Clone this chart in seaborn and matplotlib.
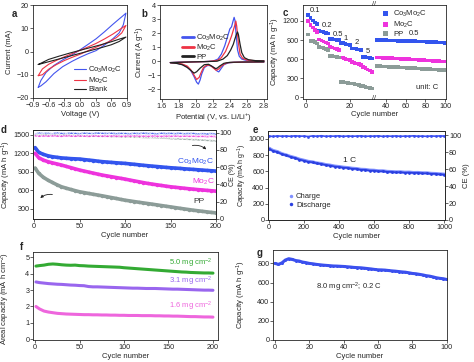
import matplotlib
matplotlib.use("Agg")
import matplotlib.pyplot as plt
import seaborn as sns

# ---- a: CV of symmetric cells (forward then reverse scan)
a_co_v = [-0.80, -0.75, -0.65, -0.50, -0.33, -0.15, 0.00, 0.15, 0.31, 0.47, 0.63, 0.75, 0.83, 0.88,
          0.83, 0.75, 0.63, 0.47, 0.31, 0.15, 0.00, -0.15, -0.33, -0.50, -0.65, -0.75, -0.80]
a_co_i = [-15.4, -12.5, -9.0, -6.0, -3.6, -1.4, 0.7, 3.0, 5.5, 8.5, 11.7, 14.0, 15.5, 16.5,
          11.5, 8.0, 5.5, 2.8, 0.4, -1.0, -2.5, -4.2, -6.5, -9.5, -13.0, -14.8, -15.4]
a_mo_v = [-0.80, -0.72, -0.60, -0.45, -0.30, -0.15, 0.00, 0.15, 0.31, 0.47, 0.63, 0.75, 0.83, 0.88,
          0.80, 0.70, 0.55, 0.40, 0.25, 0.10, 0.00, -0.15, -0.30, -0.45, -0.60, -0.72, -0.80]
a_mo_i = [-10.4, -7.5, -5.5, -3.8, -2.3, -0.9, 0.5, 1.9, 3.5, 5.4, 7.5, 9.3, 10.5, 11.2,
          8.0, 6.0, 4.2, 2.7, 1.3, -0.2, -1.2, -2.5, -3.9, -5.6, -7.6, -10.0, -10.4]
a_bl_v = [-0.80, -0.60, -0.40, -0.20, 0.00, 0.20, 0.40, 0.60, 0.75, 0.88,
          0.75, 0.60, 0.40, 0.20, 0.00, -0.20, -0.40, -0.60, -0.80]
a_bl_i = [-5.6, -3.4, -2.0, -0.7, 0.5, 1.7, 2.9, 4.2, 5.3, 6.2,
          4.3, 2.9, 1.6, 0.4, -0.8, -2.0, -3.2, -4.4, -5.6]

# ---- b: CV of Li-S cells (cathodic 2.8 -> 1.7, then anodic 1.7 -> 2.8)
b_co_v = [2.80, 2.60, 2.45, 2.38, 2.33, 2.30, 2.27, 2.25, 2.22, 2.18, 2.14, 2.10, 2.07, 2.05, 2.03, 2.01,
          1.98, 1.94, 1.90, 1.85, 1.78, 1.70,
          1.80, 1.95, 2.10, 2.20, 2.26, 2.30, 2.34, 2.37, 2.40, 2.42, 2.435, 2.45, 2.46, 2.475, 2.49,
          2.51, 2.54, 2.58, 2.65, 2.80]
b_co_i = [-0.05, -0.06, -0.08, -0.12, -0.25, -0.50, -0.76, -0.70, -0.50, -0.33, -0.30, -0.45, -0.90, -1.35,
          -1.63, -1.50, -1.10, -0.65, -0.40, -0.25, -0.15, -0.10,
          -0.07, -0.05, -0.03, 0.00, 0.15, 0.50, 1.10, 1.70, 2.30, 2.45, 2.80, 3.12, 2.90, 1.80, 0.80,
          0.35, 0.15, 0.08, 0.04, 0.02]
b_mo_v = [2.80, 2.60, 2.45, 2.36, 2.30, 2.27, 2.24, 2.21, 2.17, 2.13, 2.09, 2.06, 2.04, 2.01, 1.98, 1.94,
          1.90, 1.84, 1.77, 1.70,
          1.85, 2.00, 2.15, 2.25, 2.30, 2.35, 2.39, 2.42, 2.44, 2.46, 2.47, 2.48, 2.50, 2.52, 2.55, 2.60,
          2.70, 2.80]
b_mo_i = [-0.05, -0.06, -0.08, -0.12, -0.35, -0.55, -0.65, -0.50, -0.30, -0.28, -0.45, -0.85, -1.15, -1.30,
          -1.00, -0.60, -0.35, -0.20, -0.13, -0.10,
          -0.07, -0.05, -0.02, 0.05, 0.25, 0.70, 1.30, 1.80, 2.20, 2.60, 2.85, 2.50, 1.30, 0.50, 0.20, 0.08,
          0.03, 0.02]
b_pp_v = [2.80, 2.55, 2.40, 2.33, 2.28, 2.25, 2.23, 2.20, 2.15, 2.10, 2.05, 2.01, 1.98, 1.95, 1.90, 1.84,
          1.77, 1.70,
          1.90, 2.10, 2.25, 2.32, 2.37, 2.41, 2.44, 2.46, 2.48, 2.49, 2.50, 2.52, 2.54, 2.57, 2.62, 2.70, 2.80]
b_pp_i = [-0.05, -0.06, -0.08, -0.15, -0.35, -0.50, -0.52, -0.40, -0.22, -0.25, -0.50, -0.75, -0.85, -0.70,
          -0.45, -0.25, -0.15, -0.10,
          -0.06, -0.03, 0.00, 0.15, 0.40, 0.80, 1.20, 1.60, 1.95, 2.08, 1.90, 1.20, 0.60, 0.25, 0.10, 0.04, 0.02]

# ---- c: rate capability
c_cyc1 = list(range(1, 31))
c_co1 = [1292, 1245, 1205, 1175, 1150, 1046, 1035, 1025, 1015, 1005, 915, 912, 908, 905, 900,
         857, 850, 840, 830, 821, 769, 765, 758, 750, 743, 637, 632, 625, 618, 611]
c_mo1 = [1203, 1140, 1095, 1060, 1030, 910, 895, 878, 862, 847, 794, 782, 768, 755, 742,
         627, 618, 605, 595, 585, 559, 545, 532, 520, 507, 480, 462, 440, 420, 402]
c_pp1 = [988, 889, 880, 865, 847, 794, 785, 770, 755, 742, 648, 645, 640, 632, 627,
         245, 240, 232, 225, 219, 219, 210, 200, 190, 182, 177, 168, 158, 148, 140]
c_cyc2 = list(range(31, 101, 3))
c_co2 = [902, 900, 898, 899, 895, 893, 894, 890, 888, 889, 885, 883, 884, 880, 878, 876, 877, 873,
         870, 868, 866, 864, 861, 858]
c_mo2 = [628, 624, 622, 619, 617, 614, 612, 609, 606, 604, 601, 598, 596, 593, 590, 587, 584, 581,
         578, 575, 572, 568, 565, 561]
c_pp2 = [492, 488, 485, 483, 480, 477, 475, 472, 469, 467, 464, 462, 459, 457, 454, 451, 449, 446,
         443, 440, 437, 434, 431, 428]
c_rates = ["0.1", "0.2", "0.5", "1", "2", "5"]

# ---- d: cycling at 0.5 C
d_cyc = [1] + list(range(5, 201, 5))
d_co = [1293, 1215, 1184, 1160, 1145, 1135, 1125, 1120, 1114, 1110, 1107, 1098, 1090, 1082, 1072, 1064,
        1058, 1052, 1046, 1041, 1036, 1028, 1021, 1013, 1005, 998, 991, 985, 978, 971, 965, 960, 955,
        948, 943, 938, 932, 927, 921, 916, 911]
d_mo = [1200, 1129, 1090, 1064, 1045, 1027, 1009, 988, 968, 947, 927, 910, 894, 877, 861, 845, 832, 819,
        806, 793, 780, 765, 751, 737, 723, 709, 698, 687, 676, 665, 655, 647, 639, 631, 623, 616, 609,
        603, 596, 590, 584]
d_pp = [960, 873, 810, 764, 725, 688, 655, 633, 612, 592, 573, 560, 546, 533, 520, 507, 493, 479, 465,
        450, 436, 425, 414, 403, 392, 382, 371, 360, 349, 338, 327, 316, 305, 294, 284, 273, 264, 255,
        246, 237, 229]
d_ce_co = [98.0, 99.5, 98.8, 99.2, 98.5, 99.6, 99.0, 98.7, 99.3, 99.1, 98.6, 99.4, 99.0, 98.8, 99.5,
           99.2, 98.9, 99.3, 98.7, 99.1, 99.0, 98.6, 99.2, 98.8, 99.4, 98.9, 99.0, 98.5, 99.3, 98.8,
           99.1, 98.7, 99.2, 98.6, 98.9, 99.0, 98.4, 98.8, 98.5, 98.9, 98.3]
d_ce_mo = [96.5, 95.8, 96.2, 95.9, 96.4, 96.0, 95.7, 96.3, 96.1, 95.8, 96.2, 96.0, 95.6, 96.3, 95.9,
           96.1, 95.8, 96.2, 96.0, 95.7, 96.1, 95.9, 96.3, 95.8, 96.0, 95.6, 96.2, 95.9, 95.7, 96.0,
           95.8, 96.1, 95.6, 95.9, 95.7, 95.8, 95.5, 95.7, 95.4, 95.6, 95.3]
d_ce_pp = [97.0, 96.8, 97.2, 96.9, 96.7, 97.0, 96.6, 96.8, 96.4, 96.5, 96.2, 96.3, 95.9, 96.0, 95.8,
           95.6, 95.7, 95.3, 95.4, 95.1, 94.9, 95.0, 94.6, 94.7, 94.3, 94.1, 94.2, 93.8, 93.6, 93.5,
           93.1, 92.9, 92.7, 92.5, 92.2, 91.9, 91.7, 91.4, 91.0, 90.7, 90.3]

# ---- e: long cycling at 1 C
e_cyc = list(range(0, 1001, 25))
e_dis = [880, 852, 838, 812, 798, 778, 765, 745, 733, 718, 712, 698, 692, 678, 672, 660, 655, 646, 642,
         633, 630, 620, 619, 610, 609, 601, 602, 594, 593, 588, 590, 584, 586, 580, 582, 576, 577, 570,
         569, 563, 561]
e_chg = [886, 856, 842, 816, 801, 782, 768, 749, 736, 722, 715, 702, 695, 682, 675, 664, 658, 650, 645,
         637, 633, 624, 622, 614, 612, 605, 605, 598, 596, 592, 593, 588, 589, 584, 585, 580, 580, 574,
         572, 567, 564]
e_ce = [99.0, 98.6, 99.2, 98.8, 99.1, 98.7, 99.3, 98.9, 99.0, 98.5, 99.2, 98.8, 99.4, 98.7, 99.0, 98.9,
        99.3, 98.6, 99.1, 98.8, 99.0, 99.2, 98.7, 99.0, 98.9, 99.3, 98.6, 99.1, 98.8, 99.2, 98.7, 99.0,
        98.9, 99.3, 98.8, 99.0, 98.7, 99.1, 98.9, 99.2, 99.0]

# ---- f: areal capacity at different loadings
f_cyc = [1] + list(range(5, 201, 5))
f_50 = [4.47, 4.50, 4.53, 4.58, 4.60, 4.58, 4.55, 4.53, 4.52, 4.53, 4.50, 4.49, 4.47, 4.46, 4.45, 4.44,
        4.43, 4.42, 4.41, 4.40, 4.37, 4.35, 4.33, 4.31, 4.29, 4.27, 4.25, 4.23, 4.21, 4.19, 4.17, 4.15,
        4.13, 4.11, 4.10, 4.08, 4.07, 4.06, 4.05, 4.05, 4.04]
f_31 = [3.50, 3.46, 3.43, 3.40, 3.38, 3.36, 3.35, 3.33, 3.31, 3.30, 3.28, 3.27, 3.22, 3.20, 3.20, 3.19,
        3.18, 3.17, 3.16, 3.15, 3.14, 3.13, 3.12, 3.12, 3.11, 3.10, 3.10, 3.10, 3.09, 3.08, 3.07, 3.06,
        3.06, 3.05, 3.04, 3.03, 3.02, 3.01, 3.00, 3.00, 2.99]
f_16 = [2.00, 1.85, 1.72, 1.66, 1.62, 1.58, 1.56, 1.54, 1.53, 1.52, 1.51, 1.50, 1.50, 1.49, 1.49, 1.48,
        1.48, 1.47, 1.47, 1.46, 1.46, 1.45, 1.45, 1.45, 1.44, 1.44, 1.44, 1.43, 1.43, 1.42, 1.42, 1.41,
        1.41, 1.40, 1.39, 1.38, 1.38, 1.37, 1.36, 1.36, 1.35]
f_labels = ["5.0 mg cm$^{-2}$", "3.1 mg cm$^{-2}$", "1.6 mg cm$^{-2}$"]

# ---- g: high loading 8.0 mg cm-2
g_cyc = list(range(0, 101, 2))
g_cap = [800, 790, 805, 835, 849, 842, 830, 825, 814, 808, 800, 796, 790, 786, 782, 779, 776, 773, 772,
         770, 768, 765, 762, 758, 756, 754, 750, 746, 742, 737, 733, 732, 730, 726, 722, 719, 715, 711,
         708, 702, 695, 692, 686, 680, 672, 667, 659, 650, 644, 640, 632]

CO, MO, PP = "Co$_3$Mo$_2$C", "Mo$_2$C", "PP"
BLUE, RED, BLACK = "#4455ee", "#ee3344", "#222222"
CBLUE, CMAG, CGRAY = "#3355ee", "#ee33dd", "#8c9c98"
CAP = "Capacity (mA h g$^{-1}$)"

sns.set_theme(style="ticks")
plt.rcParams["font.family"] = ["Liberation Sans", "DejaVu Sans"]
plt.rcParams.update({
    "font.size": 5.5, "axes.labelsize": 5.5, "xtick.labelsize": 5.2, "ytick.labelsize": 5.2,
    "legend.fontsize": 5.5, "axes.linewidth": 0.6, "xtick.major.width": 0.5, "ytick.major.width": 0.5,
    "xtick.major.size": 2, "ytick.major.size": 2, "xtick.major.pad": 1.2, "ytick.major.pad": 0.9,
    "axes.labelpad": 1.0, "mathtext.fontset": "custom", "mathtext.rm": "Liberation Sans",
    "mathtext.it": "Liberation Sans:italic", "mathtext.default": "regular",
})

W, H = 474, 362
fig = plt.figure(figsize=(W / 100, H / 100), dpi=100)


def add_ax(l, t, r, b):
    return fig.add_axes([l / W, 1 - b / H, (r - l) / W, (b - t) / H])


def line(ax, x, y, **kw):
    sns.lineplot(x=x, y=y, ax=ax, estimator=None, sort=False, **kw)


# a
ax = add_ax(33, 5, 127, 98)
line(ax, a_co_v, a_co_i, color=BLUE, lw=0.8, label=CO)
line(ax, a_mo_v, a_mo_i, color=RED, lw=0.8, label=MO)
line(ax, a_bl_v, a_bl_i, color=BLACK, lw=0.8, label="Blank")
ax.set(xlim=(-0.9, 0.9), ylim=(-20, 20), xlabel="Voltage (V)", ylabel="Current (mA)")
ax.set_xticks([-0.9, -0.6, -0.3, 0.0, 0.3, 0.6, 0.9])
ax.set_yticks([-20, -10, 0, 10, 20])
ax.yaxis.set_label_coords(-0.215, 0.5)
ax.legend(loc="lower right", frameon=False, handlelength=1.6, handletextpad=0.3, labelspacing=0.05,
          borderaxespad=0.2)

# b
ax = add_ax(160, 5, 266.5, 98.7)
line(ax, b_co_v, b_co_i, color=BLUE, lw=0.9, label=CO)
line(ax, b_mo_v, b_mo_i, color=RED, lw=0.9, label=MO)
line(ax, b_pp_v, b_pp_i, color=BLACK, lw=0.9, label=PP)
ax.set(xlim=(1.58, 2.83), ylim=(-2.67, 4), xlabel="Potential (V, vs. Li/Li$^{+}$)",
       ylabel="Current (A g$^{-1}$)")
ax.set_xticks([1.6, 1.8, 2.0, 2.2, 2.4, 2.6, 2.8])
ax.set_yticks([-2, -1, 0, 1, 2, 3, 4])
ax.yaxis.set_label_coords(-0.12, 0.5)
leg = ax.legend(loc="upper left", bbox_to_anchor=(0.14, 0.78), frameon=False, handlelength=1.6,
                handletextpad=0.3, labelspacing=0.05)
for h in leg.get_lines():
    h.set_linewidth(2)

# c (broken x axis)
ax1 = add_ax(303, 5, 374, 99)
ax2 = add_ax(374, 5, 446, 99)
for col, y1, y2, lab in [(CBLUE, c_co1, c_co2, CO), (CMAG, c_mo1, c_mo2, MO), (CGRAY, c_pp1, c_pp2, PP)]:
    sns.scatterplot(x=c_cyc1, y=y1, ax=ax1, marker="s", s=7, color=col, edgecolor="none", linewidth=0)
    sns.scatterplot(x=c_cyc2, y=y2, ax=ax2, marker="s", s=7, color=col, edgecolor="none", linewidth=0,
                    label=lab)
ax1.set(xlim=(-1.4, 30.9), ylim=(-25, 1450), ylabel=CAP, xlabel="")
ax1.set_xticks([0, 20])
ax1.set_yticks([0, 300, 600, 900, 1200])
ax1.yaxis.set_label_coords(-0.3, 0.5)
ax1.spines["right"].set_visible(False)
ax2.set(xlim=(28, 101), ylim=(-25, 1450), xlabel="", ylabel="")
ax2.set_xticks([40, 60, 80, 100])
ax2.set_yticks([])
ax2.spines["left"].set_visible(False)
for pos, s in zip([(4.1, 1360), (9.4, 1135), (14.6, 994), (18.2, 926), (23.2, 857), (28.0, 716)], c_rates):
    ax1.text(pos[0], pos[1], s, ha="center", va="center")
ax2.text(68.6, 1009, "0.5", ha="center", va="center")
ax2.text(82, 157, "unit: C", ha="center", va="center")
fig.text(374.5 / W, 1 - 99 / H, "//", ha="center", va="center", fontsize=5)
fig.text(374.5 / W, 1 - 5 / H, "//", ha="center", va="center", fontsize=5)
fig.text(374.5 / W, 1 - 114 / H, "Cycle number", ha="center", va="center", fontsize=5.5)
ax2.legend(loc="upper left", bbox_to_anchor=(-0.02, 1.02), frameon=False, handletextpad=0.0,
           labelspacing=0.1, markerscale=1.3, borderaxespad=0.3)

# d
ax = add_ax(33.3, 130, 216, 219)
axr = ax.twinx()
for col, y, ce in [(CBLUE, d_co, d_ce_co), (CGRAY, d_pp, d_ce_pp), (CMAG, d_mo, d_ce_mo)]:
    line(ax, d_cyc, y, color=col, lw=2.6, marker="o", ms=2.5, mec="none")
    line(axr, d_cyc, ce, color=col, lw=1.2, marker="o", ms=2.5, mfc="none", mew=0.6, alpha=0.85)
ax.set(xlim=(-1, 200), ylim=(130, 1580), xlabel="Cycle number", ylabel=CAP)
ax.set_xticks([0, 50, 100, 150, 200])
ax.set_yticks([300, 600, 900, 1200, 1500])
ax.yaxis.set_label_coords(-0.112, 0.5)
axr.set_ylim(0, 103)
axr.set_ylabel("CE (%)", fontsize=5.0)
axr.set_yticks([0, 20, 40, 60, 80, 100])
axr.tick_params(axis="y", pad=0.6)
axr.yaxis.set_label_coords(1.07, 0.5)
ax.text(177, 1060, CO, color=CBLUE, ha="center", va="center", fontsize=6)
ax.text(186, 733, MO, color=CMAG, ha="center", va="center", fontsize=6)
ax.text(181, 423, PP, color="#333333", ha="center", va="center", fontsize=6)
ax.annotate("", xy=(191.5, 1233), xytext=(171, 1318),
            arrowprops=dict(arrowstyle="-|>", color="#222222", lw=0.6, mutation_scale=4,
                            connectionstyle="arc3,rad=-0.3"))
ax.annotate("", xy=(4.5, 440), xytext=(23, 521),
            arrowprops=dict(arrowstyle="-|>", color="#222222", lw=0.6, mutation_scale=4,
                            connectionstyle="arc3,rad=0.3"))

# e
ax = add_ax(268, 131, 445, 220)
axr = ax.twinx()
line(ax, e_cyc, e_chg, color="#8090ff", lw=2.4, marker="o", ms=2, mec="none", label="Charge")
line(ax, e_cyc, e_dis, color="#2a3fe0", lw=1.2, marker="o", ms=2, mec="none", label="Discharge")
line(axr, e_cyc, e_ce, color="#3b4ff0", lw=1.2, marker="o", ms=2, mec="none")
ax.set(xlim=(-4, 1004), ylim=(0, 1098), xlabel="Cycle number")
ax.set_ylabel(CAP, fontsize=5.0)
ax.set_xticks([0, 200, 400, 600, 800, 1000])
ax.set_yticks([0, 200, 400, 600, 800, 1000])
ax.tick_params(axis="y", pad=0.6)
ax.yaxis.set_label_coords(-0.105, 0.5)
axr.set(ylim=(0, 105), ylabel="CE (%)")
axr.set_yticks([0, 20, 40, 60, 80, 100])
ax.text(461, 740, "1 C", ha="center", va="center", fontsize=6)
leg = ax.legend(loc="upper left", bbox_to_anchor=(0.08, 0.38), frameon=False, handlelength=0.6,
                handletextpad=0.3, labelspacing=0.1)
for h in leg.get_lines():
    h.set_linestyle("none")
    h.set_markersize(2.5)

# f
ax = add_ax(33.3, 251.7, 218.3, 340)
for col, y, lab, ly in [("#33aa33", f_50, f_labels[0], 4.63), ("#9966ee", f_31, f_labels[1], 3.51),
                        ("#ee66dd", f_16, f_labels[2], 1.99)]:
    line(ax, f_cyc, y, color=col, lw=2.2)
    ax.text(200, ly, lab, color=col, ha="right", va="center")
ax.set(xlim=(-2, 206), ylim=(-0.05, 5.35), xlabel="Cycle number",
       ylabel="Areal capacity (mA h cm$^{-2}$)")
ax.set_xticks([0, 50, 100, 150, 200])
ax.set_yticks([0, 1, 2, 3, 4, 5])
ax.yaxis.set_label_coords(-0.113, 0.47)

# g
ax = add_ax(273.3, 250, 446.7, 340)
line(ax, g_cyc, g_cap, color="#3b50ee", lw=2.2, marker="o", ms=2.2, mec="none")
ax.set(xlim=(-1, 100), ylim=(0, 940), xlabel="Cycle number", ylabel=CAP)
ax.set_xticks([0, 20, 40, 60, 80, 100])
ax.set_yticks([0, 200, 400, 600, 800])
ax.yaxis.set_label_coords(-0.146, 0.5)
ax.text(43, 553, "8.0 mg cm$^{-2}$; 0.2 C", ha="center", va="center")

for s, x, y in [("a", 14, 14), ("b", 144, 14), ("c", 285, 13), ("d", 4, 130), ("e", 255, 130),
                ("f", 22, 247), ("g", 260, 253)]:
    fig.text(x / W, 1 - y / H, s, fontsize=7, fontweight="bold", ha="center", va="center")

fig.savefig("out.png", dpi=100)
